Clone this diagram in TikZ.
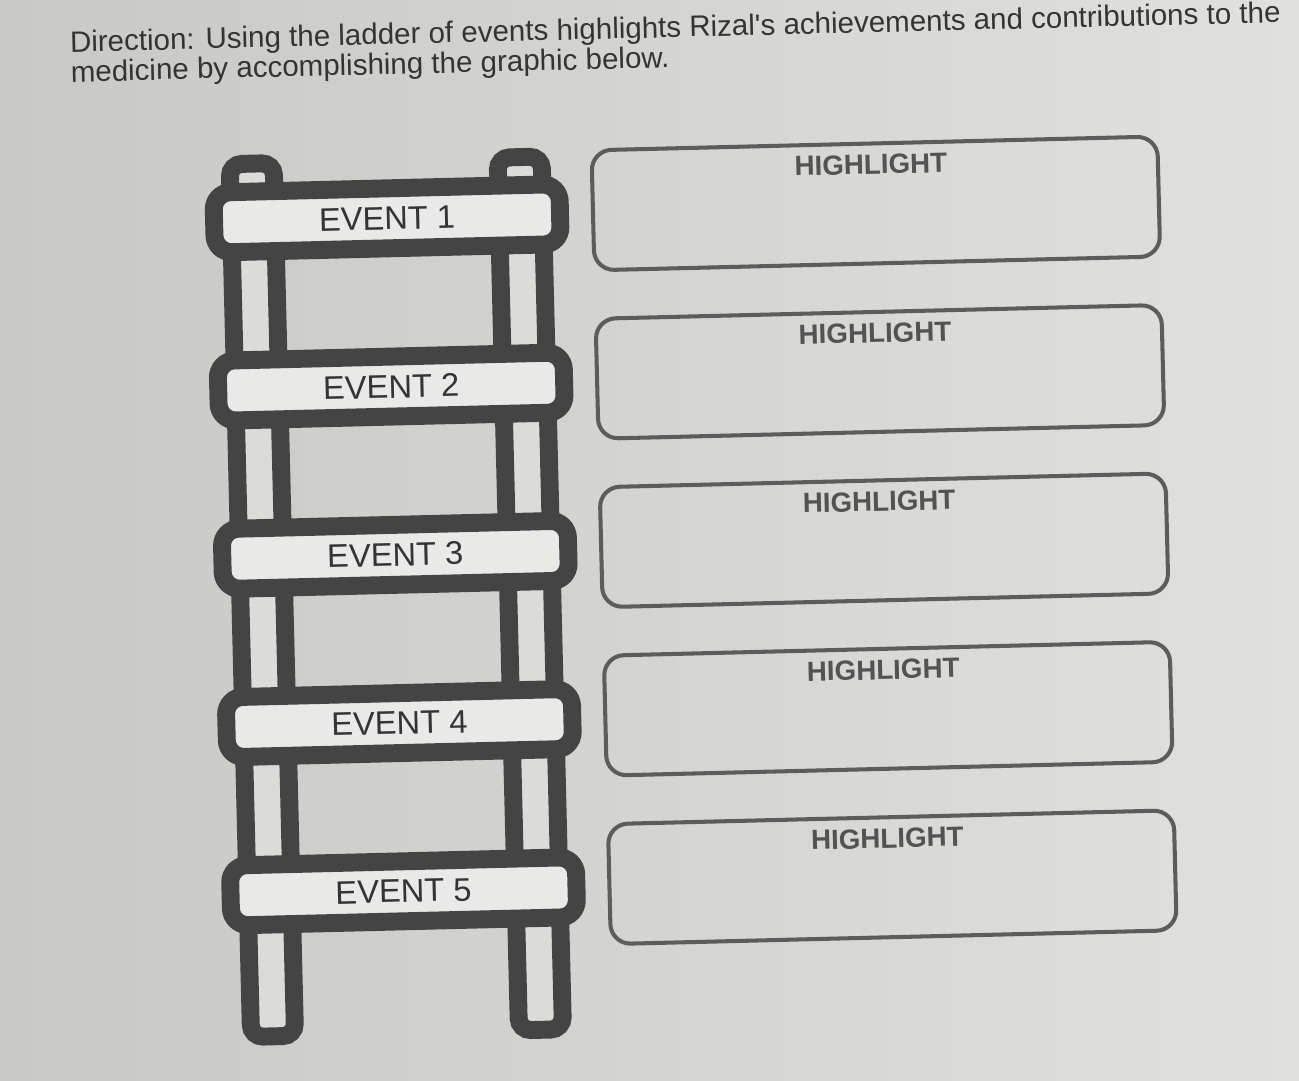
\documentclass[tikz,border=0pt]{standalone}
\usepackage{fontspec}
\setmainfont{Liberation Sans}

\definecolor{paperdark}{RGB}{200,200,196}
\definecolor{paperlight}{RGB}{224,224,221}
\definecolor{railfill}{RGB}{219,219,216}
\definecolor{strip}{RGB}{233,233,231}
\definecolor{ink}{RGB}{68,68,68}
\definecolor{boxline}{RGB}{92,92,92}
\definecolor{printtext}{RGB}{52,52,52}

\tikzset{
  rail/.style={draw=ink, fill=railfill, line width=10.2pt, rounded corners=0.24cm},
  rung/.style={draw=ink, fill=strip, line width=10.2pt, rounded corners=0.34cm},
  hlbox/.style={draw=boxline, line width=2.3pt, rounded corners=0.4cm},
  eventtext/.style={text=printtext, font=\fontsize{18.6}{20}\selectfont},
  hltext/.style={text=boxline!90!black, font=\bfseries\fontsize{15.8}{18}\selectfont},
  titletext/.style={text=printtext, anchor=base west, inner sep=0pt, font=\fontsize{16.8}{18}\selectfont}
}

\begin{document}
\begin{tikzpicture}[x=0.02cm, y=-0.02cm]

        \useasboundingbox (0,0) rectangle (1299,1080);
        \shade[left color=paperdark, right color=paperlight] (0,0) rectangle (1299,1080);

        \begin{scope}[rotate around={1.4:(650,540)}, transform shape]

        \node[titletext] (title1) at (82,38) {Direction: Using the ladder of events highlights Rizal\textquotesingle s achievements and contributions to the};
        \node[titletext] (title2) at (82,68) {medicine by accomplishing the graphic below.};

        % rails
        \draw[rail] (239,154) rectangle (283,1027);
        \draw[rail] (507,154) rectangle (551,1027);

        % rungs and highlight boxes
        \foreach \i in {1,...,5} {
            \pgfmathsetmacro\ry{212+168.3*(\i-1)}
            \pgfmathsetmacro\by{209+168.5*(\i-1)}
            \draw[rung] (222,\ry-30) rectangle (568,\ry+30);
            \node[eventtext] (event\i) at (395,\ry) {EVENT \i};
            \draw[hlbox] (601,\by-60) rectangle (1167,\by+60);
            \node[hltext] (high\i) at (880,\by-39) {HIGHLIGHT};
        }

        \end{scope}

\end{tikzpicture}
\end{document}
